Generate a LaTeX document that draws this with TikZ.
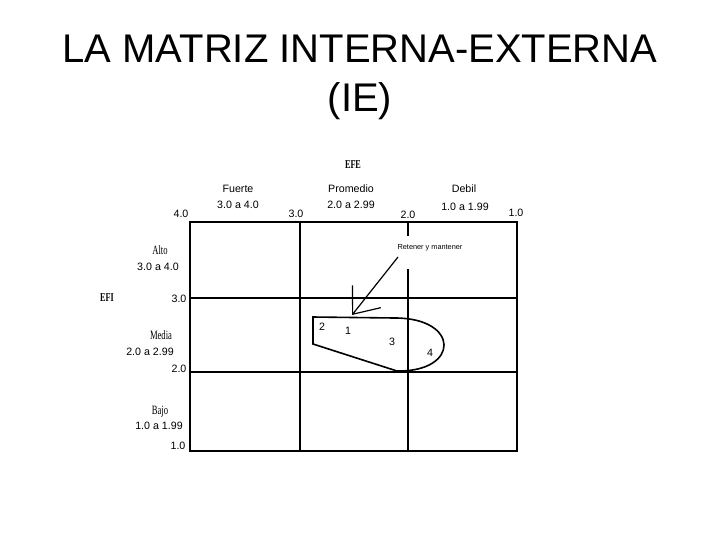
\documentclass[tikz,border=0pt]{standalone}
\usepackage{fontspec}
\setmainfont{Liberation Sans}
\newfontfamily\efefont{Liberation Serif}
\usepackage{graphicx}
\usetikzlibrary{arrows.meta,positioning}
\newcommand{\narrow}[1]{\scalebox{0.68}[1]{#1}}
\tikzset{
  gridline/.style={line width=2.2pt},
  scalelbl/.style={anchor=base, inner sep=0pt, font=\fontsize{8}{9}\selectfont},
  zonelbl/.style={anchor=base, inner sep=0pt, font=\efefont\fontsize{9.5}{10}\selectfont},
  axislbl/.style={anchor=base, inner sep=0pt, font=\efefont\bfseries\fontsize{9}{10}\selectfont},
  cellnum/.style={anchor=base, inner sep=0pt, font=\fontsize{8}{9}\selectfont},
}

\begin{document}
\begin{tikzpicture}[x=0.75pt,y=-0.75pt]
    \useasboundingbox (0,0) rectangle (720,540);
    % Title
    \node[anchor=base, font=\fontsize{30}{36}\selectfont] (title) at (360,62) {LA MATRIZ INTERNA-EXTERNA};
    \node[anchor=base, font=\fontsize{30}{36}\selectfont] (titleie) at (360,111) {(IE)};

    % Grid
    \draw[gridline] (190,222) rectangle (517,451);
    \draw[gridline] (300,222) -- (300,451);
    \draw[gridline] (408,222) -- (408,236);
    \draw[gridline] (408,269) -- (408,451);
    \draw[gridline] (190,298) -- (517,298);
    \draw[gridline] (190,372) -- (517,372);

    % EFE axis (top)
    \node[axislbl] (efe) at (353,168) {\narrow{EFE}};
    \node[scalelbl] (fuerte) at (238,192) {Fuerte};
    \node[scalelbl] (fuerteval) at (238,208) {3.0 a 4.0};
    \node[scalelbl] (promedio) at (351,192) {Promedio};
    \node[scalelbl] (promedioval) at (351,208) {2.0 a 2.99};
    \node[scalelbl] (debil) at (464,192) {Debil};
    \node[scalelbl] (debilval) at (465,210) {1.0 a 1.99};
    \node[scalelbl] (top4) at (181,217) {4.0};
    \node[scalelbl] (top3) at (296,217) {3.0};
    \node[scalelbl] (top2) at (408,218) {2.0};
    \node[scalelbl] (top1) at (516,216) {1.0};

    % EFI axis (left)
    \node[axislbl] (efi) at (107,301) {\narrow{EFI}};
    \node[zonelbl] (alto) at (160,254) {\narrow{Alto}};
    \node[scalelbl] (altoval) at (158,270) {3.0 a 4.0};
    \node[scalelbl] (left3) at (179,302) {3.0};
    \node[zonelbl] (media) at (161,339) {\narrow{Media}};
    \node[scalelbl] (mediaval) at (150,355) {2.0 a 2.99};
    \node[scalelbl] (left2) at (179,372) {2.0};
    \node[zonelbl] (bajo) at (160,414) {\narrow{Bajo}};
    \node[scalelbl] (bajoval) at (159,429) {1.0 a 1.99};
    \node[scalelbl] (left1) at (178,449) {1.0};

    % Position of the firm
    \draw[line width=1.2pt] (313,344) -- (313,317) -- (395,318)
        .. controls (460,318) and (460,372) .. (397,371) -- cycle;
    \node[cellnum] (cell2) at (322,330) {2};
    \node[cellnum] (cell1) at (348,334) {1};
    \node[cellnum] (cell3) at (392,345) {3};
    \node[cellnum] (cell4) at (430,356) {4};

    % Retener y mantener
    \node[anchor=base, inner sep=0pt, font=\fontsize{5.5}{6}\selectfont] (retener) at (430,249) {Retener y mantener};
    \coordinate (tail) at (398,257);
    \coordinate (tip) at (352,315);
    \draw[line width=0.9pt, -{Straight Barb[length=17pt,width=27pt]}] (tail) -- (tip);
\end{tikzpicture}
\end{document}
